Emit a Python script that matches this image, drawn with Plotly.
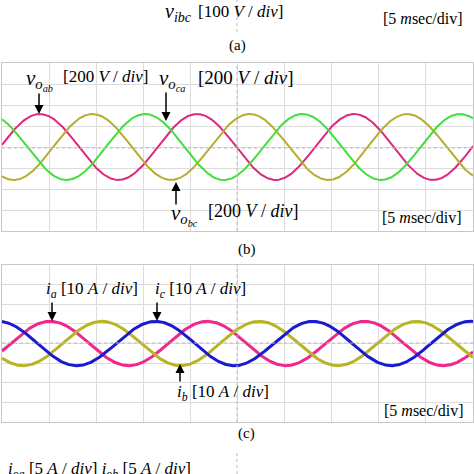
import numpy as np
import plotly.graph_objects as go

W = H = 474
# waveform parameters (time in ms, amplitude in div)
period_ms = 16.7
b_names = ["v_oab", "v_obc", "v_oca"]
b_colors = ["#e0267f", "#b5ad2e", "#3ee03a"]
b_amp = [1.57, 1.57, 1.57]
b_peak_ms = [4.0, 9.6, 15.2]
c_names = ["i_a", "i_b", "i_c"]
c_colors = ["#f0288a", "#b8b424", "#1a1ad0"]
c_amp = [1.13, 1.13, 1.13]
c_peak_ms = [5.1, 10.6, 16.3]
ms_per_div = 5

def py(p):
    return 1 - p / H
def px(p):
    return p / W

fig = go.Figure()
t = np.linspace(0, 50, 1200)
for n, c, a, pk in zip(b_names, b_colors, b_amp, b_peak_ms):
    fig.add_trace(go.Scatter(x=t / ms_per_div, y=a * np.cos(2 * np.pi * (t - pk) / period_ms),
                             mode="lines", line=dict(color=c, width=2), xaxis="x2", yaxis="y2", name=n))
for n, c, a, pk in zip(c_names, c_colors, c_amp, c_peak_ms):
    fig.add_trace(go.Scatter(x=t / ms_per_div, y=a * np.cos(2 * np.pi * (t - pk) / period_ms),
                             mode="lines", line=dict(color=c, width=3), xaxis="x3", yaxis="y3", name=n))

xd = [px(2), px(473)]
grid = "#dcdcdc"
def xa(anchor):
    return dict(domain=xd, range=[0, 10], dtick=1, showgrid=True, gridcolor=grid, gridwidth=1,
                zeroline=False, showticklabels=False, showline=True, mirror=True, linecolor="#c8c8c8",
                anchor=anchor, ticks="")
def ya(top, bot, rng):
    return dict(domain=[py(bot), py(top)], range=rng, dtick=1, showgrid=True, gridcolor=grid,
                zeroline=False, showticklabels=False, showline=True, mirror=True, linecolor="#c8c8c8", ticks="")

fig.update_layout(
    width=W, height=H, margin=dict(l=0, r=0, t=0, b=0), showlegend=False,
    paper_bgcolor="white", plot_bgcolor="white",
    xaxis=xa("y"), yaxis=ya(0, 32, [0, 1.52]),
    xaxis2=xa("y2"), yaxis2=ya(63, 231, [-4, 4]),
    xaxis3=xa("y3"), yaxis3=ya(265, 422, [-4, 4]),
    xaxis4=xa("y4"), yaxis4=ya(453, 474, [3, 4]),
)
# dotted centre lines
for top, bot in [(0, 32), (63, 231), (265, 422), (453, 474)]:
    fig.add_shape(type="line", xref="paper", yref="paper", x0=px(237), x1=px(237), y0=py(bot), y1=py(top),
                  line=dict(color="#bbbbbb", width=1, dash="dot"))
for y in [148, 343]:
    fig.add_shape(type="line", xref="paper", yref="paper", x0=px(2), x1=px(473), y0=py(y), y1=py(y),
                  line=dict(color="#bbbbbb", width=1, dash="dot"))

F = "Liberation Serif, Times New Roman, serif"
def txt(s, x, y, size=16):
    fig.add_annotation(text=s, x=px(x), y=py(y), xref="paper", yref="paper", xanchor="left",
                       yanchor="middle", showarrow=False, font=dict(family=F, size=size, color="black"))
def ctr(s, x, y, size=15):
    fig.add_annotation(text=s, x=px(x), y=py(y), xref="paper", yref="paper", xanchor="center",
                       yanchor="middle", showarrow=False, font=dict(family=F, size=size, color="black"))
def arrow(x, y0, y1):
    fig.add_annotation(x=px(x), y=py(y1), ax=0, ay=y0 - y1, xref="paper", yref="paper",
                       axref="pixel", ayref="pixel", text="", showarrow=True, arrowhead=2,
                       arrowsize=1.2, arrowwidth=1.5, arrowcolor="black")

# panel a
txt("<i>v</i><sub><i>ibc</i></sub>", 163, 12, 20)
txt("[100 <i>V</i> / <i>div</i>]", 196, 11, 17)
txt("[5 <i>m</i>sec/div]", 381, 19, 16)
ctr("(a)", 237, 45)
# panel b
txt("<i>v</i><sub><i>o</i><sub><i>ab</i></sub></sub>", 24, 80, 21)
txt("[200 <i>V</i> / <i>div</i>]", 61, 76, 17)
txt("<i>v</i><sub><i>o</i><sub><i>ca</i></sub></sub>", 157, 80, 21)
txt("[200 <i>V</i> / <i>div</i>]", 196, 77, 19)
txt("<i>v</i><sub><i>o</i><sub><i>bc</i></sub></sub>", 169, 215, 21)
txt("[200 <i>V</i> / <i>div</i>]", 206, 211, 18)
txt("[5 <i>m</i>sec/div]", 380, 218, 16)
arrow(39, 92, 114)
arrow(166, 91, 121)
arrow(176, 206, 182)
ctr("(b)", 247, 249)
# panel c
txt("<i>i</i><sub><i>a</i></sub> [10 <i>A</i> / <i>div</i>]", 44, 290, 17)
txt("<i>i</i><sub><i>c</i></sub> [10 <i>A</i> / <i>div</i>]", 153, 290, 17)
txt("<i>i</i><sub><i>b</i></sub> [10 <i>A</i> / <i>div</i>]", 175, 393, 17)
txt("[5 <i>m</i>sec/div]", 382, 410, 16)
arrow(52, 301, 321)
arrow(157, 301, 321)
arrow(180, 383, 364)
ctr("(c)", 246, 433)
# panel d (cut off at the bottom edge)
txt("<i>i</i><sub><i>oa</i></sub> [5 <i>A</i> / <i>div</i>] <i>i</i><sub><i>ob</i></sub> [5 <i>A</i> / <i>div</i>]", 6, 470, 17)

fig.write_html("out.html", config={"displayModeBar": False},
               post_script="document.body.style.margin='0';document.body.style.overflow='hidden';")
